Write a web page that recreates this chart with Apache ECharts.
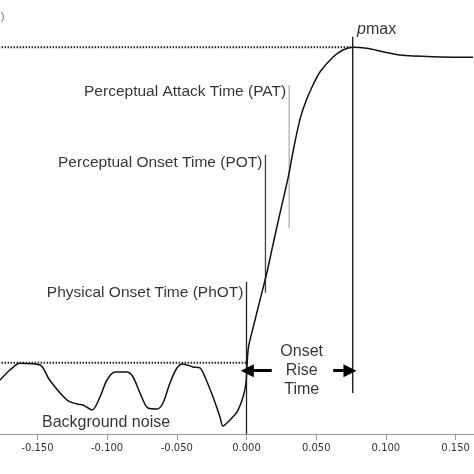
<!DOCTYPE html>
<html>
<head>
<meta charset="utf-8">
<script src="https://cdn.jsdelivr.net/npm/echarts@6/dist/echarts.min.js"></script>
<style>html,body{margin:0;padding:0;background:#fff}#c{width:474px;height:474px}</style>
</head>
<body>
<div id="c"></div>
<script>
// waveform (time in s, normalised amplitude: noise level = 0, pmax = 1)
const timeS = [-0.1768,-0.1697,-0.1625,-0.1481,-0.1413,-0.1288,-0.1216,-0.1173,-0.1108,-0.1051,-0.1001,-0.0943,-0.0857,-0.0814,-0.0764,-0.0707,-0.0642,-0.0599,-0.0549,-0.0499,-0.0456,-0.0384,-0.0334,-0.0298,-0.0240,-0.0190,-0.0169,-0.0133,-0.0068,-0.0025,-0.0004,0.0013,0.0049,0.0097,0.0145,0.0192,0.0240,0.0300,0.0336,0.0384,0.0427,0.0470,0.0527,0.0621,0.0692,0.0762,0.0862,0.0979,0.1101,0.1338,0.1625];
const amplitude = [-0.0549,-0.0231,-0.0019,-0.0073,-0.0549,-0.1183,-0.1309,-0.1341,-0.1500,-0.1088,-0.0549,-0.0295,-0.0295,-0.0454,-0.0961,-0.1436,-0.1468,-0.1278,-0.0644,-0.0168,-0.0041,-0.0136,-0.0168,-0.0454,-0.1088,-0.1722,-0.2007,-0.1880,-0.1563,-0.1088,-0.0644,0.0457,0.1141,0.1988,0.2835,0.3786,0.4737,0.5897,0.6744,0.7724,0.8297,0.8741,0.9217,0.9693,0.9915,1.0000,0.9968,0.9861,0.9756,0.9702,0.9683];

// reference levels
const pmaxLevel = 1.0;
const noiseLevel = 0.0;

// event markers
const markerNames  = ['PhOT', 'POT', 'PAT', 'pmax'];
const markerTimes  = [0.0, 0.0136, 0.0306, 0.0762];
const markerTop    = [0.2568, 0.6585, 0.8805, 1.0336];
const markerBottom = [-0.2261, 0.2219, 0.4271, -0.0961];

// annotation texts
const eventLabels = ['Physical Onset Time (PhOT)', 'Perceptual Onset Time (POT)', 'Perceptual Attack Time (PAT)'];
const eventLabelY = [0.221, 0.6332, 0.8583];
const noiseLabel = 'Background noise';
const noiseLabelPos = [-0.1467, -0.190];
const riseLabel = 'Onset\nRise\nTime';
const riseLabelPos = [0.0396, -0.0254];
const riseArrowY = -0.0254;
const riseArrowLeft = [0.0181, 0.0006];
const riseArrowRight = [0.0622, 0.0742];
const pmaxLabelPos = [0.0793, 1.0548];

const FONT = 'Liberation Sans';
const chart = echarts.init(document.getElementById('c'), null, {renderer: 'canvas'});

const markerColors = ['#222', '#444', '#aaa', '#111'];
const markerSeries = markerNames.map((n, i) => ({
  type: 'line', name: n, silent: true, symbol: 'none', animation: false,
  lineStyle: {color: markerColors[i], width: i === 2 ? 1.2 : 1.3},
  data: [[markerTimes[i], markerBottom[i]], [markerTimes[i], markerTop[i]]]
}));

const labelData = eventLabels.map((t, i) => ({
  value: [markerTimes[i], eventLabelY[i]],
  label: {show: true, formatter: t, position: 'left', distance: 3, fontSize: 15.5, color: '#000', fontFamily: FONT}
}));
labelData.push({
  value: noiseLabelPos,
  label: {show: true, formatter: noiseLabel, position: 'right', distance: 0, fontSize: 16, color: '#000', fontFamily: FONT}
});
labelData.push({
  value: riseLabelPos,
  label: {show: true, formatter: riseLabel, position: 'inside', align: 'center', verticalAlign: 'middle', lineHeight: 19, fontSize: 16, color: '#000', fontFamily: FONT}
});
labelData.push({
  value: pmaxLabelPos,
  label: {show: true, formatter: '{i|p}max', position: 'right', distance: 0, fontSize: 16, color: '#000', fontFamily: FONT,
    rich: {i: {fontStyle: 'italic', fontSize: 16, color: '#000', fontFamily: FONT}}}
});

const option = {
  animation: false,
  backgroundColor: '#fff',
  grid: {left: -32.3, right: -51.3, top: 0, bottom: 40, containLabel: false, outerBoundsMode: 'none'},
  xAxis: {
    type: 'value', min: -0.2, max: 0.2, interval: 0.05,
    axisLine: {show: true, onZero: false, lineStyle: {color: '#999', width: 1}},
    axisTick: {show: true, length: 6, lineStyle: {color: '#999'}},
    splitLine: {show: false},
    axisLabel: {fontFamily: 'DejaVu Sans', fontSize: 10, color: '#333', margin: 9,
      formatter: v => v.toFixed(3)}
  },
  yAxis: {type: 'value', min: -0.2261, max: 1.15, show: false, splitLine: {show: false}},
  graphic: [{type: 'text', left: 1, top: 12, style: {text: ')', fontSize: 10, fill: '#666', fontFamily: FONT}}],
  series: [
    {
      type: 'line', name: 'pmax level', silent: true, symbol: 'none',
      lineStyle: {color: '#222', width: 2, type: [1.5, 1.5]},
      data: [[-0.18, pmaxLevel], [markerTimes[3], pmaxLevel]]
    },
    {
      type: 'line', name: 'noise level', silent: true, symbol: 'none',
      lineStyle: {color: '#222', width: 2, type: [1.5, 1.5]},
      data: [[-0.18, noiseLevel], [markerTimes[0], noiseLevel]]
    },
    ...markerSeries,
    {
      type: 'line', name: 'signal', silent: true, symbol: 'none', smooth: 0.3,
      lineStyle: {color: '#111', width: 1.5},
      data: timeS.map((t, i) => [t, amplitude[i]])
    },
    {
      type: 'line', name: 'arrows', silent: true, symbol: 'none', data: [],
      markLine: {
        silent: true, symbol: ['none', 'triangle'], symbolSize: [13, 13],
        label: {show: false},
        lineStyle: {color: '#000', width: 3, type: 'solid'},
        data: [
          [{coord: [riseArrowLeft[0], riseArrowY]}, {coord: [riseArrowLeft[1], riseArrowY]}],
          [{coord: [riseArrowRight[0], riseArrowY]}, {coord: [riseArrowRight[1], riseArrowY]}]
        ]
      }
    },
    {
      type: 'scatter', name: 'labels', silent: true, symbolSize: 0,
      data: labelData
    }
  ]
};
chart.setOption(option);
</script>
</body>
</html>
